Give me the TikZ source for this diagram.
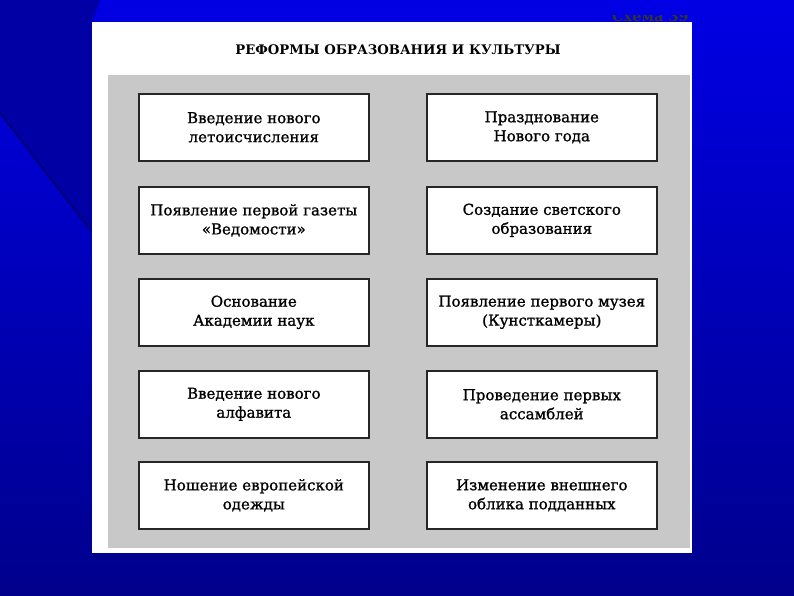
\documentclass[tikz,border=0pt]{standalone}
\usepackage{fontspec}
\setmainfont{DejaVu Serif}
\newfontfamily\boxfont[FakeBold=1.1]{DejaVu Serif}
\definecolor{bgtop}{RGB}{0,0,228}
\definecolor{bgbot}{RGB}{0,0,140}
\definecolor{bgdark}{RGB}{0,0,165}
\definecolor{bgline}{RGB}{0,0,110}
\definecolor{pgray}{RGB}{200,200,200}
\begin{document}
\begin{tikzpicture}[x=1pt,y=-1pt,
  item/.style={draw=black!85,line width=1.6pt,fill=white,minimum width=230pt,minimum height=67pt,inner sep=0pt,align=center,font=\boxfont\fontsize{15}{19}\selectfont,anchor=north west}]
\useasboundingbox (0,0) rectangle (794,595);
% background
\shade[top color=bgtop,bottom color=bgbot] (0,0) rectangle (794,595);
\fill[bgdark] (0,0) -- (100,0) -- (92,22) -- (92,232) -- (0,113) -- cycle;
\draw[bgline,line width=1.5pt] (0,113) -- (92,232);
% panel
\fill[white] (92,22) rectangle (692,553);
\fill[pgray] (108,75) rectangle (690,548);
\begin{scope}
\clip (600,15) rectangle (692,23);
\node[font=\bfseries\fontsize{14.5}{14.5}\selectfont,text=black!80,anchor=base east,inner sep=0pt] (scheme) at (689,21) {Схема 39};
\end{scope}
\node[font=\bfseries\fontsize{13.2}{13.2}\selectfont] (title) at (398,50) {РЕФОРМЫ ОБРАЗОВАНИЯ И КУЛЬТУРЫ};
\node[item] (l1) at (138,93) {Введение нового\\летоисчисления};
\node[item] (r1) at (426,93) {Празднование\\Нового года};
\node[item] (l2) at (138,186) {Появление первой газеты\\«Ведомости»};
\node[item] (r2) at (426,186) {Создание светского\\образования};
\node[item] (l3) at (138,278) {Основание\\Академии наук};
\node[item] (r3) at (426,278) {Появление первого музея\\(Кунсткамеры)};
\node[item] (l4) at (138,370) {Введение нового\\алфавита};
\node[item] (r4) at (426,370) {Проведение первых\\ассамблей};
\node[item] (l5) at (138,461) {Ношение европейской\\одежды};
\node[item] (r5) at (426,461) {Изменение внешнего\\облика подданных};
\end{tikzpicture}
\end{document}
